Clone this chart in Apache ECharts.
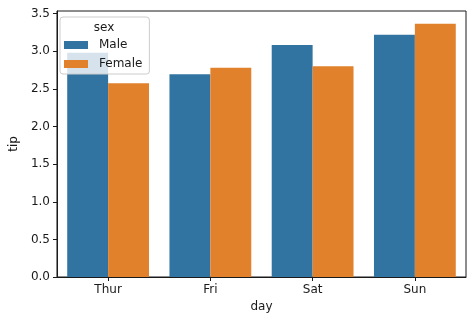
<!DOCTYPE html>
<html>
<head>
<meta charset="utf-8">
<script src="https://cdn.jsdelivr.net/npm/echarts@6/dist/echarts.min.js"></script>
<style>
  html, body { margin: 0; padding: 0; background: #fff; }
  #chart { width: 474px; height: 323px; }
</style>
</head>
<body>
<div id="chart"></div>
<script>
// Mean tip by day, split by sex
const days = ['Thur', 'Fri', 'Sat', 'Sun'];
const maleTips = [2.980, 2.693, 3.084, 3.220];
const femaleTips = [2.576, 2.781, 2.802, 3.367];
const yTicks = [0.0, 0.5, 1.0, 1.5, 2.0, 2.5, 3.0, 3.5];

const FONT = 'DejaVu Sans';
const INK = '#1a1a1a';
const FS = 12;
const chart = echarts.init(document.getElementById('chart'), null, { renderer: 'canvas' });

chart.setOption({
  animation: false,
  backgroundColor: '#ffffff',
  textStyle: { fontFamily: FONT },
  grid: { left: 53, right: 8, top: 11, bottom: 46, containLabel: false,
          show: true, borderColor: INK, borderWidth: 1 },
  xAxis: {
    type: 'category',
    data: days,
    name: 'day',
    nameLocation: 'middle',
    nameGap: 24,
    nameTextStyle: { fontFamily: FONT, fontSize: FS, color: INK },
    axisLine: { show: true, lineStyle: { color: INK, width: 1 } },
    axisTick: { show: true, alignWithLabel: true, length: 4, lineStyle: { color: INK } },
    axisLabel: { fontFamily: FONT, fontSize: FS, color: INK, margin: 7 },
    splitLine: { show: false }
  },
  yAxis: {
    type: 'value',
    min: 0,
    max: 3.535,
    interval: 0.5,
    name: 'tip',
    nameLocation: 'middle',
    nameGap: 33,
    nameTextStyle: { fontFamily: FONT, fontSize: FS, color: INK },
    axisLine: { show: true, lineStyle: { color: INK, width: 1 } },
    axisTick: { show: true, length: 4, lineStyle: { color: INK } },
    axisLabel: {
      fontFamily: FONT, fontSize: FS, color: INK, margin: 7,
      showMaxLabel: false,
      formatter: v => (yTicks.some(t => Math.abs(t - v) < 1e-9) ? v.toFixed(1) : '')
    },
    splitLine: { show: false }
  },
  legend: {
    orient: 'vertical',
    left: 60,
    top: 17,
    padding: [22, 7, 4, 4],
    itemWidth: 24,
    itemHeight: 8,
    itemGap: 7,
    icon: 'rect',
    backgroundColor: 'rgba(255,255,255,0.8)',
    borderColor: '#cccccc',
    borderWidth: 1,
    borderRadius: 3,
    textStyle: { fontFamily: FONT, fontSize: FS, color: INK, padding: [0, 0, 0, 6] },
    data: ['Male', 'Female']
  },
  graphic: [{
    type: 'text',
    x: 104,
    y: 28,
    z: 100,
    style: { text: 'sex', font: FS + 'px "DejaVu Sans"', fill: INK,
             align: 'center', verticalAlign: 'middle' }
  }],
  series: [
    {
      name: 'Male',
      type: 'bar',
      data: maleTips,
      itemStyle: { color: '#3274a1' },
      barGap: '0%',
      barCategoryGap: '20%'
    },
    {
      name: 'Female',
      type: 'bar',
      data: femaleTips,
      itemStyle: { color: '#e1812c' },
      barGap: '0%',
      barCategoryGap: '20%'
    }
  ]
});
</script>
</body>
</html>
